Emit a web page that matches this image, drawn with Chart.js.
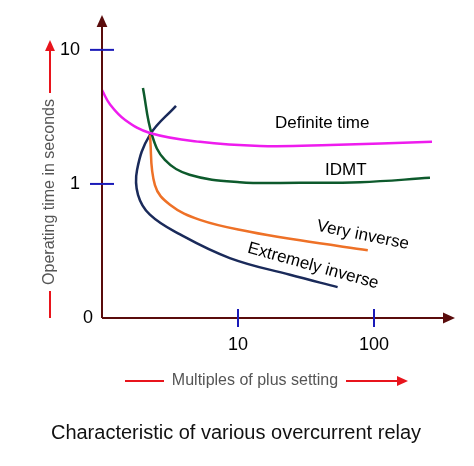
<!DOCTYPE html>
<html>
<head>
<meta charset="utf-8">
<script src="https://cdn.jsdelivr.net/npm/chart.js@4/dist/chart.umd.min.js"></script>
<style>body{margin:0;background:#fff}</style>
</head>
<body>
<canvas id="c" width="474" height="466"></canvas>
<script>
// log-log curves, x = multiples of plug setting, y = seconds
const definiteX = [1, 1.15, 1.48, 2.25, 5.25, 14.5, 47.5, 267];
const definiteY = [5.0, 3.9, 3.0, 2.4, 2.06, 1.92, 1.95, 2.06];
const idmtX = [2.0, 2.33, 2.9, 4.4, 10.3, 28.6, 79, 258];
const idmtY = [5.2, 2.32, 1.51, 1.17, 1.03, 1.02, 1.03, 1.11];
const veryX = [2.25, 2.45, 3.16, 5.25, 12.2, 28.6, 90];
const veryY = [2.32, 0.98, 0.70, 0.54, 0.44, 0.38, 0.32];
const extremeX = [3.5, 2.25, 1.81, 1.84, 2.25, 3.75, 8.7, 24.1, 54];
const extremeY = [3.82, 2.32, 1.27, 0.83, 0.59, 0.42, 0.28, 0.21, 0.17];
const xTicks = [10, 100];
const yTicks = [1, 10];
const curveLabels = ['Definite time', 'IDMT', 'Very inverse', 'Extremely inverse'];

function pts(xs, ys) { return xs.map((x, i) => ({x: x, y: ys[i]})); }

function arrow(ctx, x, y, dir, size, color) {
    ctx.save();
    ctx.fillStyle = color;
    ctx.translate(x, y);
    ctx.rotate(dir);
    ctx.beginPath();
    ctx.moveTo(0, 0);
    ctx.lineTo(-size, -size * 0.45);
    ctx.lineTo(-size, size * 0.45);
    ctx.closePath();
    ctx.fill();
    ctx.restore();
}

const decor = {
    id: 'decor',
    afterDraw(chart) {
        const ctx = chart.ctx;
        const a = chart.chartArea;
        const xs = chart.scales.x, ys = chart.scales.y;
        const axisCol = '#5a0c0c';
        const font = 'Arial, "Liberation Sans", sans-serif';
        ctx.save();
        ctx.strokeStyle = axisCol;
        ctx.lineWidth = 2;
        ctx.beginPath();
        ctx.moveTo(a.left, a.bottom); ctx.lineTo(a.right - 8, a.bottom);
        ctx.moveTo(a.left, a.bottom); ctx.lineTo(a.left, a.top + 8);
        ctx.stroke();
        arrow(ctx, a.right, a.bottom, 0, 12, axisCol);
        arrow(ctx, a.left, a.top, -Math.PI / 2, 12, axisCol);

        ctx.strokeStyle = '#1a1ab8';
        ctx.lineWidth = 2;
        ctx.fillStyle = '#000';
        ctx.font = '18px ' + font;
        ctx.textAlign = 'center';
        ctx.textBaseline = 'top';
        xTicks.forEach(v => {
            const p = xs.getPixelForValue(v);
            ctx.beginPath(); ctx.moveTo(p, a.bottom - 9); ctx.lineTo(p, a.bottom + 9); ctx.stroke();
            ctx.fillText(String(v), p, a.bottom + 18);
        });
        ctx.textAlign = 'right';
        ctx.textBaseline = 'middle';
        yTicks.forEach(v => {
            const p = ys.getPixelForValue(v);
            ctx.beginPath(); ctx.moveTo(a.left - 12, p); ctx.lineTo(a.left + 12, p); ctx.stroke();
            ctx.fillText(String(v), a.left - 22, p);
        });
        ctx.fillText('0', a.left - 9, a.bottom);

        // curve labels
        ctx.textAlign = 'left';
        ctx.font = '17px ' + font;
        const lab = [[275, 123, 0], [325, 170, 0], [317, 226, 0.2], [248, 248, 0.27]];
        lab.forEach((l, i) => {
            ctx.save();
            ctx.translate(l[0], l[1]);
            ctx.rotate(l[2]);
            ctx.fillText(curveLabels[i], 0, 0);
            ctx.restore();
        });

        // axis titles with red arrows
        const red = '#e8141c';
        ctx.strokeStyle = red;
        ctx.lineWidth = 2;
        ctx.font = '16px ' + font;
        ctx.fillStyle = '#555';
        ctx.beginPath(); ctx.moveTo(125, 381); ctx.lineTo(164, 381);
        ctx.moveTo(346, 381); ctx.lineTo(398, 381); ctx.stroke();
        arrow(ctx, 408, 381, 0, 11, red);
        ctx.textAlign = 'center';
        ctx.fillText('Multiples of plus setting', 255, 381);

        ctx.save();
        ctx.translate(50, 0);
        ctx.rotate(-Math.PI / 2);
        ctx.beginPath(); ctx.moveTo(-318, 0); ctx.lineTo(-291, 0);
        ctx.moveTo(-93, 0); ctx.lineTo(-50, 0); ctx.stroke();
        arrow(ctx, -40, 0, 0, 11, red);
        ctx.fillText('Operating time in seconds', -192, 0);
        ctx.restore();

        ctx.fillStyle = '#111';
        ctx.font = '20px ' + font;
        ctx.fillText('Characteristic of various overcurrent relay', 236, 433);
        ctx.restore();
    }
};

const ds = (data, color) => ({data: data, borderColor: color, borderWidth: 2.5, pointRadius: 0, showLine: true, tension: 0.4, fill: false});

new Chart(document.getElementById('c'), {
    type: 'scatter',
    data: {
        datasets: [
            ds(pts(definiteX, definiteY), '#ee1cee'),
            ds(pts(idmtX, idmtY), '#0d5a2c'),
            ds(pts(veryX, veryY), '#ee7127'),
            ds(pts(extremeX, extremeY), '#1a2a5a')
        ]
    },
    options: {
        responsive: false,
        animation: false,
        layout: {padding: {left: 102, top: 15, right: 19, bottom: 148}},
        plugins: {legend: {display: false}, tooltip: {enabled: false}},
        scales: {
            x: {type: 'logarithmic', min: 1, max: 394, display: false},
            y: {type: 'logarithmic', min: 0.1, max: 18.2, display: false}
        }
    },
    plugins: [decor]
});
</script>
</body>
</html>
